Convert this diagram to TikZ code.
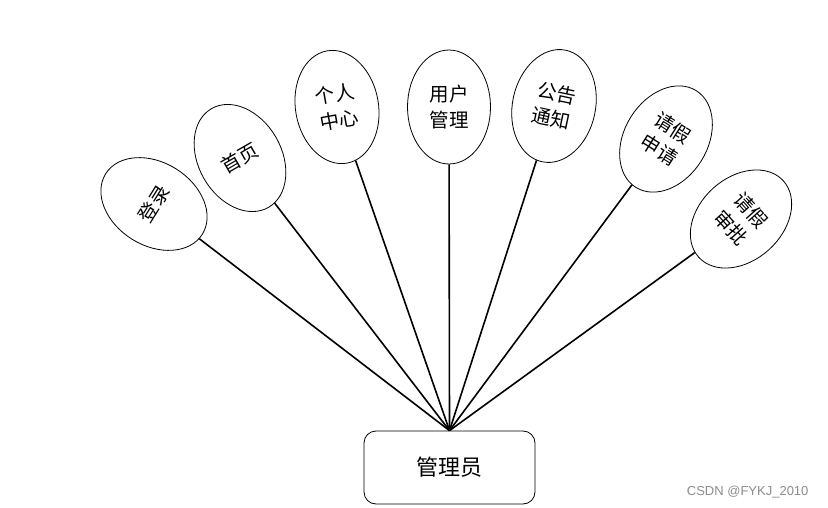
\documentclass[tikz,border=0pt]{standalone}
\usepackage{fontspec}
\newfontfamily\cjk{Noto Sans CJK SC}
\newfontfamily\wmfont{Liberation Sans}
\usetikzlibrary{shapes.geometric}

\begin{document}
\begin{tikzpicture}[
  x=1pt, y=-1pt,
  func/.style={
    draw,
    ellipse,
    line width=0.8pt,
    minimum width=83pt,
    minimum height=114pt,
    inner sep=0pt,
    align=center,
    font=\cjk\fontsize{19.5}{26}\selectfont
  },
  role/.style={
    draw,
    line width=0.8pt,
    rounded corners=12pt,
    minimum width=171pt,
    minimum height=73pt,
    font=\cjk\fontsize{22}{24}\selectfont
  },
  link/.style={line width=1.6pt}
]
\useasboundingbox (0,0) rectangle (828,508);

\node[role] (admin) at (449.5,467.5) {管理员};

\node[func, rotate=58] (login) at (154,204) {登录};
\node[func, rotate=30] (home) at (240,158) {首页};
\node[func, rotate=10] (center) at (337,107) {个人\\中心};
\node[func] (user) at (449,107) {用户\\管理};
\node[func, rotate=-12] (notice) at (554,106) {公告\\通知};
\node[func, rotate=-32] (apply) at (666,139) {请假\\申请};
\node[func, rotate=-48] (approve) at (741,219) {请假\\审批};

\draw[link] (login) -- (admin.north);
\draw[link] (home) -- (admin.north);
\draw[link] (center) -- (admin.north);
\draw[link] (user) -- (admin.north);
\draw[link] (notice) -- (admin.north);
\draw[link] (apply) -- (admin.north);
\draw[link] (approve) -- (admin.north);

\node[text=black!45, font=\wmfont\fontsize{13}{15}\selectfont, anchor=east] (mark) at (812,492) {CSDN @FYKJ\_2010};
\end{tikzpicture}
\end{document}
